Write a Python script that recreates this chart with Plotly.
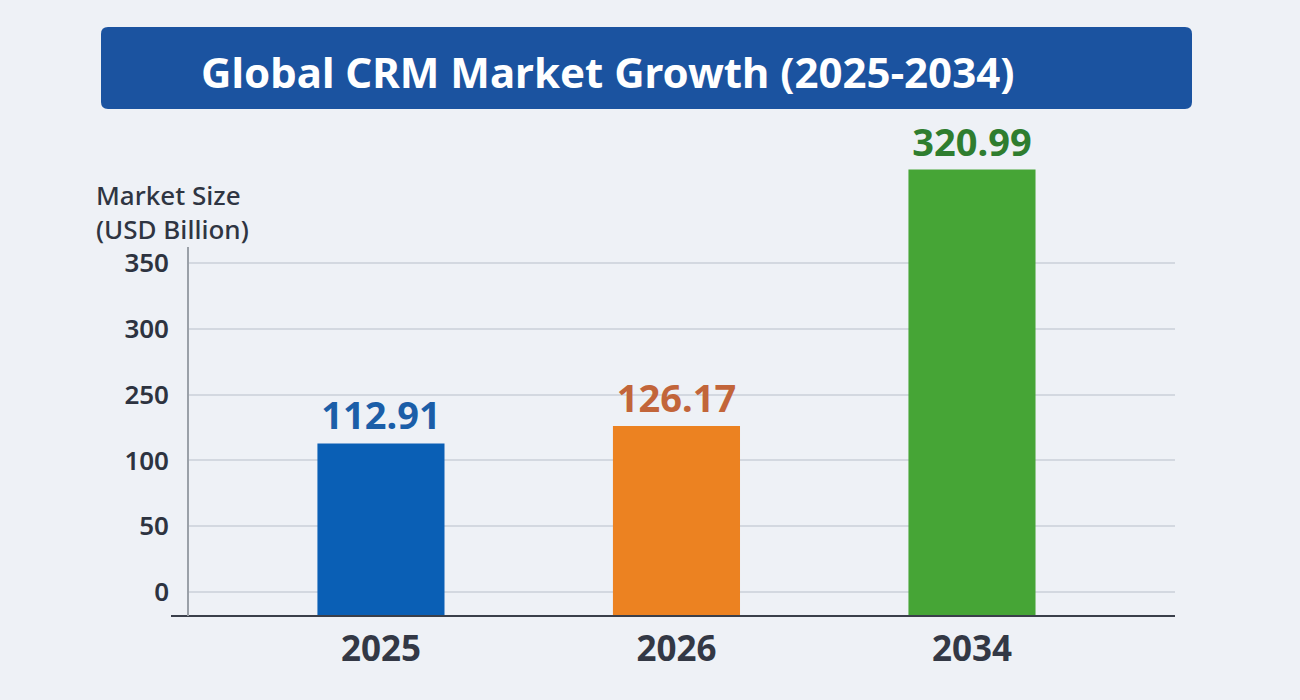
import plotly.graph_objects as go

# ---- data ----
years = ["2025", "2026", "2034"]
market_size = [112.91, 126.17, 320.99]
value_labels = ["112.91", "126.17", "320.99"]
tick_labels = ["0", "50", "100", "250", "300", "350"]
title_text = "Global CRM Market Growth (2025-2034)"
y_title = "Market Size<br>(USD Billion)"

# ---- styles ----
bar_colors = ["#0a5fb5", "#ec8221", "#46a536"]
label_colors = ["#1b5ea8", "#c2653a", "#2f7d2f"]
bg = "#eef1f6"
FONT = "Noto Sans"

W, H = 1300, 700
L, R = 188, 1175          # plot area left/right (px)
T, B = 140, 616           # plot area top/bottom (px)
px_per_unit = 1.316
zero_px = 592
ymin = -(B - zero_px) / px_per_unit
ymax = ymin + (B - T) / px_per_unit
tick_step = 50
tickvals = [i * tick_step for i in range(len(tick_labels))]

def px_x(p):
    return (p - L) / (R - L)

def px_y(p):
    return (B - p) / (B - T)

fig = go.Figure()
fig.add_trace(go.Bar(
    x=years,
    y=[v - ymin for v in market_size],
    base=ymin,
    marker=dict(color=bar_colors, line=dict(width=0)),
    width=0.43,
    text=value_labels,
    textposition="outside",
    textfont=dict(family=FONT, size=38, color=label_colors, weight=700),
    cliponaxis=False,
    hovertext=[f"{y}: {v}" for y, v in zip(years, market_size)],
    hoverinfo="text",
))

# rounded title box
x0, x1, y0, y1, r = 101, 1192, 27, 109, 7
path = (f"M {px_x(x0+r)},{px_y(y0)} L {px_x(x1-r)},{px_y(y0)} "
        f"Q {px_x(x1)},{px_y(y0)} {px_x(x1)},{px_y(y0+r)} "
        f"L {px_x(x1)},{px_y(y1-r)} Q {px_x(x1)},{px_y(y1)} {px_x(x1-r)},{px_y(y1)} "
        f"L {px_x(x0+r)},{px_y(y1)} Q {px_x(x0)},{px_y(y1)} {px_x(x0)},{px_y(y1-r)} "
        f"L {px_x(x0)},{px_y(y0+r)} Q {px_x(x0)},{px_y(y0)} {px_x(x0+r)},{px_y(y0)} Z")

shapes = [
    dict(type="path", xref="paper", yref="paper", path=path,
         fillcolor="#1b53a0", line=dict(width=0), layer="below"),
    # x axis line
    dict(type="line", xref="paper", yref="paper",
         x0=px_x(171), x1=px_x(1175), y0=px_y(616), y1=px_y(616),
         line=dict(color="#3a3f4a", width=2)),
    # y axis line
    dict(type="line", xref="paper", yref="paper",
         x0=0, x1=0, y0=px_y(616), y1=px_y(247),
         line=dict(color="#9aa0a8", width=2)),
]

annotations = [
    dict(text=title_text, xref="paper", yref="paper",
         x=px_x(199), y=px_y(71), xanchor="left", yanchor="middle",
         showarrow=False,
         font=dict(family=FONT, size=42, color="white", weight=700)),
    dict(text=y_title, xref="paper", yref="paper",
         x=px_x(94), y=px_y(175), xanchor="left", yanchor="top", align="left",
         showarrow=False,
         font=dict(family=FONT, size=26, color="#2f3542", weight=500)),
]

fig.update_layout(
    width=W, height=H,
    margin=dict(l=L, r=W - R, t=T, b=H - B, pad=0),
    paper_bgcolor=bg, plot_bgcolor=bg,
    showlegend=False,
    shapes=shapes,
    annotations=annotations,
    xaxis=dict(type="category", range=[-0.653, 2.687], showgrid=False,
               showline=False, zeroline=False, ticks="",
               ticklabelstandoff=9,
               tickfont=dict(family=FONT, size=35, color="#333845", weight=700)),
    yaxis=dict(range=[ymin, ymax], tickmode="array", tickvals=tickvals,
               ticktext=tick_labels, showgrid=True, gridcolor="#d3d8e0",
               gridwidth=1.5, zeroline=False, showline=False, ticks="",
               ticklabelstandoff=18,
               tickfont=dict(family=FONT, size=26, color="#2d3340", weight=600)),
    bargap=0.5,
)

fig.write_html("out.html")
